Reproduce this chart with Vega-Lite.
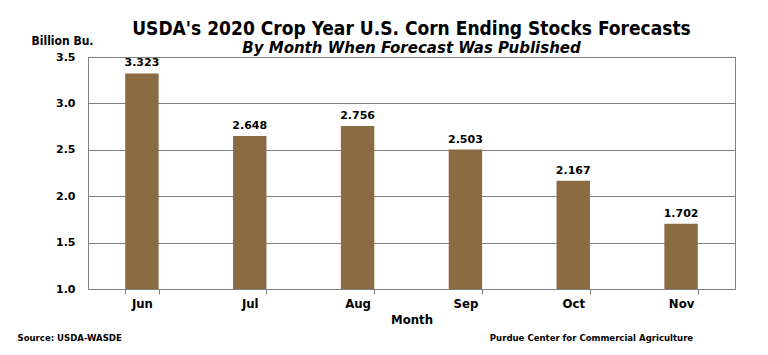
{
  "$schema": "https://vega.github.io/schema/vega-lite/v6.json",
  "width": 647,
  "height": 232,
  "autosize": {"type": "none"},
  "padding": {"left": 88, "top": 57, "right": 33, "bottom": 66},
  "background": "white",
  "title": {
    "text": "USDA's 2020 Crop Year U.S. Corn Ending Stocks Forecasts",
    "subtitle": "By Month When Forecast Was Published",
    "anchor": "middle",
    "frame": "group",
    "font": "DejaVu Sans Condensed",
    "fontSize": 19,
    "fontWeight": "bold",
    "color": "black",
    "subtitleFont": "DejaVu Sans",
    "subtitleFontSize": 15,
    "subtitleFontWeight": "bold",
    "subtitleFontStyle": "italic",
    "subtitleColor": "black",
    "subtitlePadding": 2,
    "offset": -22
  },
  "data": {
    "values": [
      {"month": "Jun", "value": 3.323},
      {"month": "Jul", "value": 2.648},
      {"month": "Aug", "value": 2.756},
      {"month": "Sep", "value": 2.503},
      {"month": "Oct", "value": 2.167},
      {"month": "Nov", "value": 1.702}
    ]
  },
  "config": {
    "view": {"stroke": "#808080", "strokeWidth": 1},
    "axis": {"labelColor": "black", "titleColor": "black"}
  },
  "layer": [
    {
      "mark": {"type": "bar", "color": "#8B6B42"},
      "encoding": {
        "x": {
          "field": "month", "type": "nominal", "sort": null,
          "scale": {"type": "band", "paddingInner": 0.69, "paddingOuter": 0.345},
          "axis": {
            "title": "Month",
            "titleFont": "DejaVu Sans Condensed",
            "titleFontSize": 13,
            "titleFontWeight": "bold",
            "titlePadding": 3,
            "labelFont": "DejaVu Sans Condensed",
            "labelFontSize": 13,
            "labelFontWeight": "bold",
            "labelAngle": 0,
            "labelPadding": 3,
            "tickBand": "extent",
            "tickSize": 5,
            "tickColor": "#808080",
            "domainColor": "#808080",
            "grid": false
          }
        },
        "y": {
          "field": "value", "type": "quantitative",
          "scale": {"domain": [1, 3.5], "nice": false, "zero": false},
          "axis": {
            "values": [1, 1.5, 2, 2.5, 3, 3.5],
            "format": ".1f",
            "labelFont": "DejaVu Sans",
            "labelFontSize": 11,
            "labelFontWeight": "bold",
            "labelPadding": 13,
            "ticks": false,
            "domain": false,
            "grid": true,
            "gridColor": "#808080",
            "gridOpacity": 1,
            "title": "Billion Bu.",
            "titleFont": "DejaVu Sans Condensed",
            "titleFontSize": 12,
            "titleFontWeight": "bold",
            "titleAngle": 0,
            "titleAlign": "center",
            "titleBaseline": "middle",
            "titleX": -26,
            "titleY": -17
          }
        },
        "y2": {"datum": 1}
      }
    },
    {
      "mark": {"type": "text", "baseline": "bottom", "dy": -5, "font": "DejaVu Sans", "fontSize": 11, "fontWeight": "bold", "color": "black"},
      "encoding": {
        "x": {"field": "month", "type": "nominal", "sort": null, "scale": {"type": "band", "paddingInner": 0.69, "paddingOuter": 0.345}, "axis": null},
        "y": {"field": "value", "type": "quantitative", "axis": null},
        "text": {"field": "value", "type": "quantitative", "format": ".3f"}
      }
    },
    {
      "mark": {"type": "text", "text": ""},
      "encoding": {
        "x": {
          "field": "month", "type": "nominal", "sort": null,
          "scale": {"type": "band", "paddingInner": 0.69, "paddingOuter": 0.345},
          "axis": {
            "orient": "top", "labels": false, "ticks": false, "domain": false, "grid": false,
            "minExtent": 0, "maxExtent": 0,
            "title": "Source: USDA-WASDE",
            "titleFont": "DejaVu Sans Condensed",
            "titleFontSize": 9.5,
            "titleFontWeight": "bold",
            "titleAlign": "left",
            "titleBaseline": "middle",
            "titleX": -71,
            "titleY": 280
          }
        },
        "y": {
          "field": "value", "type": "quantitative",
          "axis": {
            "orient": "right", "labels": false, "ticks": false, "domain": false, "grid": false,
            "minExtent": 0, "maxExtent": 0,
            "title": "Purdue Center for Commercial Agriculture",
            "titleFont": "DejaVu Sans Condensed",
            "titleFontSize": 9.5,
            "titleFontWeight": "bold",
            "titleAngle": 0,
            "titleAlign": "center",
            "titleBaseline": "middle",
            "titleX": -144,
            "titleY": 280
          }
        }
      }
    }
  ],
  "resolve": {"axis": {"x": "independent", "y": "independent"}}
}
